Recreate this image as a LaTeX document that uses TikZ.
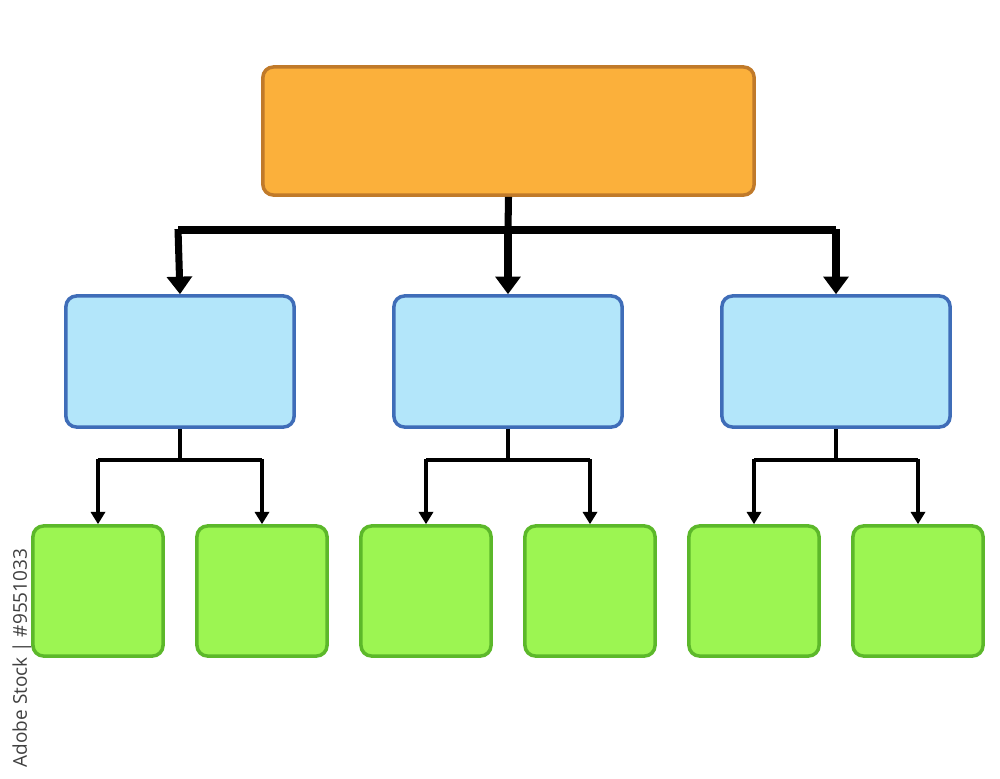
\documentclass[tikz,border=0pt]{standalone}
\usepackage{fontspec}
\setmainfont{Open Sans}
\usetikzlibrary{arrows.meta}
\definecolor{org}{HTML}{FBB03B}
\definecolor{orgd}{HTML}{C07A2A}
\definecolor{blu}{HTML}{B3E6FA}
\definecolor{blud}{HTML}{3F6DB8}
\definecolor{grn}{HTML}{9CF552}
\definecolor{grnd}{HTML}{5CB82A}
\begin{document}
\begin{tikzpicture}[x=0.01cm,y=-0.01cm,
  box/.style={draw,line width=1pt,rounded corners=3pt,inner sep=0pt},
  topbox/.style={box,fill=org,draw=orgd,minimum width=4.91cm,minimum height=1.28cm},
  midbox/.style={box,fill=blu,draw=blud,minimum width=2.28cm,minimum height=1.31cm},
  leafbox/.style={box,fill=grn,draw=grnd,minimum width=1.30cm,minimum height=1.30cm},
  big/.style={line width=2pt,-{Triangle[length=5pt,width=7pt]}},
  small/.style={line width=1.3pt,-{Triangle[length=3.5pt,width=4pt]}},
  bar/.style={line width=2pt},
  sbar/.style={line width=1.3pt}]
\useasboundingbox (0,0) rectangle (1000,778);
\node[topbox] (T) at (508.5,131) {};
\node[midbox] (B1) at (180,361.5) {};
\node[midbox] (B2) at (508,361.5) {};
\node[midbox] (B3) at (836,361.5) {};
\foreach \i/\x in {1/98,2/262,3/426,4/590,5/754,6/918}
  \node[leafbox] (G\i) at (\x,591) {};
\coordinate (J) at (508,230);
\draw[bar] (T.south) -- (J);
\draw[bar] (178,230) -- (836,230);
\draw[big] (178,229) -- (B1.north);
\draw[big] (J) -- (B2.north);
\draw[big] (836,229) -- (B3.north);
\foreach \b/\l/\r in {B1/G1/G2,B2/G3/G4,B3/G5/G6}{
  \draw[sbar] (\b.south) -- ++(0,33);
  \draw[sbar] (\l.north |- 0,460) -- (\r.north |- 0,460);
  \draw[small] (\l.north |- 0,459) -- (\l.north);
  \draw[small] (\r.north |- 0,459) -- (\r.north);
}
\node[rotate=90,anchor=west,text=black!75,font=\fontsize{5.4pt}{6pt}\selectfont,inner sep=0pt] (wm) at (22,768) {Adobe Stock | \#9551033};
\end{tikzpicture}
\end{document}
